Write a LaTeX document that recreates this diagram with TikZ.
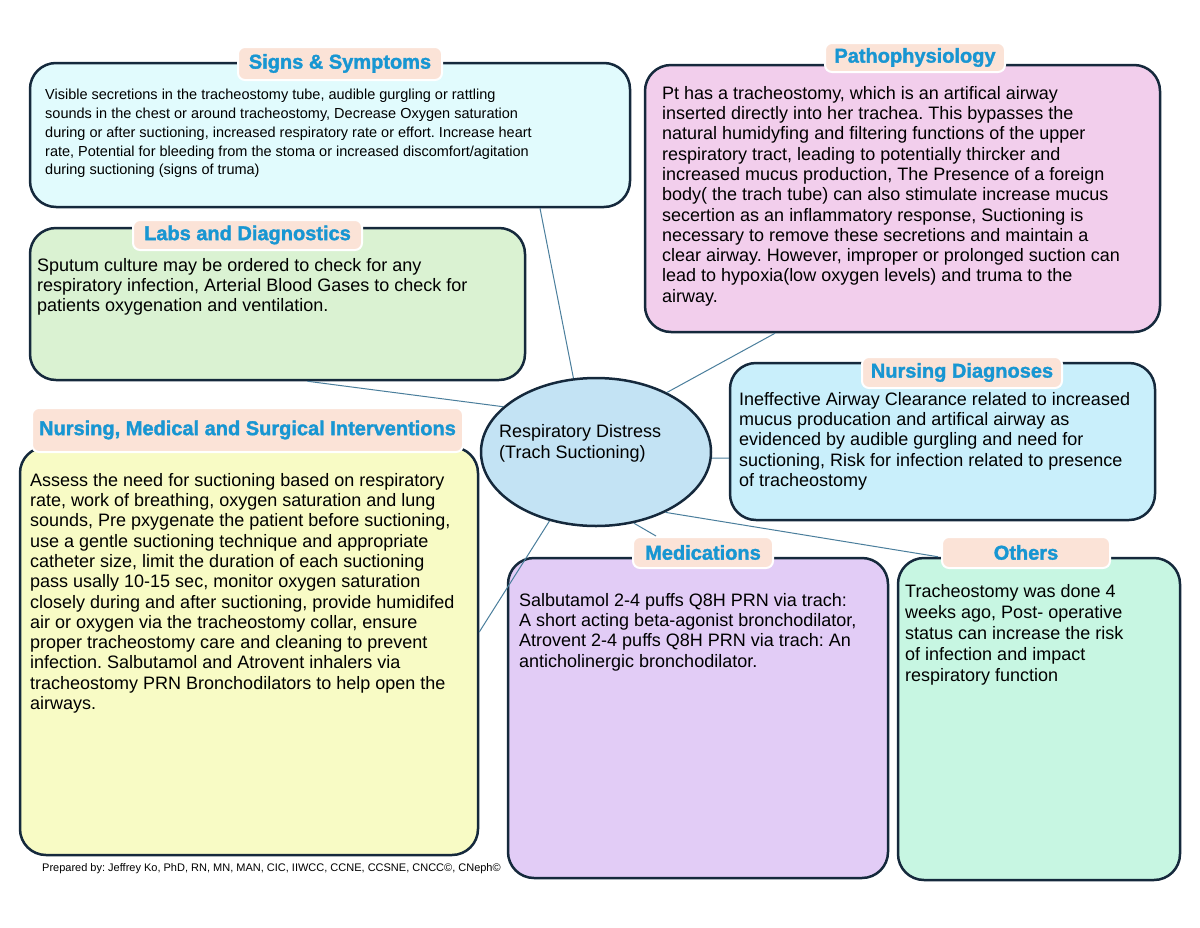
\documentclass[tikz,border=0pt]{standalone}
\usepackage{fontspec}
\setmainfont{Liberation Sans}
\usetikzlibrary{positioning,shapes.geometric}

\definecolor{signsbg}{HTML}{E1FBFD}
\definecolor{pathobg}{HTML}{F2CEEC}
\definecolor{labsbg}{HTML}{DAF2D2}
\definecolor{diagbg}{HTML}{C9EFFB}
\definecolor{intervbg}{HTML}{F8FBC5}
\definecolor{medsbg}{HTML}{E2CCF6}
\definecolor{othersbg}{HTML}{C7F6E2}
\definecolor{titlebg}{HTML}{FBE3D7}
\definecolor{titleblue}{HTML}{1896D2}
\definecolor{boxline}{HTML}{15293C}
\definecolor{linkblue}{HTML}{4A7E9C}
\definecolor{hubbg}{HTML}{C3E3F4}

\frenchspacing

\begin{document}
\begin{tikzpicture}[
	x = 1pt, y = -1pt,
	box/.style = {draw=boxline, line width=2.5pt, rounded corners=26pt, inner sep=0pt},
	titlebox/.style = {draw=white, line width=2pt, fill=titlebg, rounded corners=7pt,
		inner sep=0pt, text=titleblue,
		font=\fontsize{20}{22}\selectfont\bfseries\addfontfeatures{FakeBold=1.6}},
	bodytext/.style = {anchor=north west, inner sep=0pt, align=left,
		font=\fontsize{18}{20.3}\selectfont},
	link/.style = {draw=linkblue, line width=1pt}
	]
	\useasboundingbox[fill=white] (0,0) rectangle (1200,927);

	% boxes
	\node[box, fill=signsbg,  minimum width=600pt, minimum height=144pt] (signs)  at (330,135) {};
	\node[box, fill=pathobg,  minimum width=515pt, minimum height=267pt] (patho)  at (902.5,198.5) {};
	\node[box, fill=labsbg,   minimum width=495pt, minimum height=152pt] (labs)   at (277.5,304) {};
	\node[box, fill=diagbg,   minimum width=425pt, minimum height=157pt] (diag)   at (942.5,441.5) {};
	\node[box, fill=intervbg, minimum width=458pt, minimum height=408pt] (interv) at (249,651) {};
	\node[box, fill=medsbg,   minimum width=380pt, minimum height=320pt] (meds)   at (698,718) {};
	\node[box, fill=othersbg, minimum width=282pt, minimum height=322pt] (others) at (1039,719) {};

	% centre
	\node[ellipse, draw=boxline, line width=2.5pt, fill=hubbg,
		minimum width=230pt, minimum height=148pt] (hub) at (596,452) {};
	\node[bodytext, anchor=west, font=\fontsize{18}{21}\selectfont] (hubtext) at (499,443.5)
		{Respiratory Distress\\(Trach Suctioning)};

	% titles
	\node[titlebox, minimum width=204pt, minimum height=33pt] (signstitle)  at (340,63.5) {Signs \& Symptoms};
	\node[titlebox, minimum width=180pt, minimum height=29pt] (pathotitle)  at (915,57.5) {Pathophysiology};
	\node[titlebox, minimum width=229pt, minimum height=30pt] (labstitle)   at (247.5,235) {Labs and Diagnostics};
	\node[titlebox, minimum width=200pt, minimum height=31pt] (diagtitle)   at (962,372.5) {Nursing Diagnoses};
	\node[titlebox, minimum width=431pt, minimum height=44pt] (intervtitle) at (247.5,430) {Nursing, Medical and Surgical Interventions};
	\node[titlebox, minimum width=140pt, minimum height=31pt] (medstitle)   at (703,552.5) {Medications};
	\node[titlebox, minimum width=168pt, minimum height=31pt] (otherstitle) at (1026,552.5) {Others};

	% texts
	\node[bodytext, font=\fontsize{14.5}{18.8}\selectfont] (signstext) at (45,89)
		{Visible secretions in the tracheostomy tube, audible gurgling or rattling\\
		sounds in the chest or around tracheostomy, Decrease Oxygen saturation\\
		during or after suctioning, increased respiratory rate or effort. Increase heart\\
		rate, Potential for bleeding from the stoma or increased discomfort/agitation\\
		during suctioning (signs of truma)};
	\node[bodytext] (pathotext) at (662,86)
		{Pt has a tracheostomy, which is an artifical airway\\
		inserted directly into her trachea. This bypasses the\\
		natural humidyfing and filtering functions of the upper\\
		respiratory tract, leading to potentially thircker and\\
		increased mucus production, The Presence of a foreign\\
		body( the trach tube) can also stimulate increase mucus\\
		secertion as an inflammatory response, Suctioning is\\
		necessary to remove these secretions and maintain a\\
		clear airway. However, improper or prolonged suction can\\
		lead to hypoxia(low oxygen levels) and truma to the\\
		airway.};
	\node[bodytext] (labstext) at (37,258)
		{Sputum culture may be ordered to check for any\\
		respiratory infection, Arterial Blood Gases to check for\\
		patients oxygenation and ventilation.};
	\node[bodytext] (diagtext) at (739,392)
		{Ineffective Airway Clearance related to increased\\
		mucus producation and artifical airway as\\
		evidenced by audible gurgling and need for\\
		suctioning, Risk for infection related to presence\\
		of tracheostomy};
	\node[bodytext] (intervtext) at (30,473)
		{Assess the need for suctioning based on respiratory\\
		rate, work of breathing, oxygen saturation and lung\\
		sounds, Pre pxygenate the patient before suctioning,\\
		use a gentle suctioning technique and appropriate\\
		catheter size, limit the duration of each suctioning\\
		pass usally 10-15 sec, monitor oxygen saturation\\
		closely during and after suctioning, provide humidifed\\
		air or oxygen via the tracheostomy collar, ensure\\
		proper tracheostomy care and cleaning to prevent\\
		infection. Salbutamol and Atrovent inhalers via\\
		tracheostomy PRN Bronchodilators to help open the\\
		airways.};
	\node[bodytext] (medstext) at (519,593)
		{Salbutamol 2-4 puffs Q8H PRN via trach:\\
		A short acting beta-agonist bronchodilator,\\
		Atrovent 2-4 puffs Q8H PRN via trach: An\\
		anticholinergic bronchodilator.};
	\node[bodytext, font=\fontsize{18}{21}\selectfont] (otherstext) at (905,584)
		{Tracheostomy was done 4\\
		weeks ago, Post- operative\\
		status can increase the risk\\
		of infection and impact\\
		respiratory function};
	\node[bodytext, anchor=west, font=\fontsize{11}{13}\selectfont] (footer) at (42,869)
		{Prepared by: Jeffrey Ko, PhD, RN, MN, MAN, CIC, IIWCC, CCNE, CCSNE, CNCC©, CNeph©};

	% links
	\path[link]
	(hub.107)  -- ([xshift=210pt]signs.south)
	(hub.40)   -- ([xshift=-127.5pt]patho.south)
	(hub.154)  -- ([xshift=30pt]labs.south)
	(hub.-3)   -- (hub.-3 -| diag.west)
	(hub.-124) -- ([yshift=19pt]interv.east)
	(hub.-62)  -- ([xshift=24pt]medstitle.north west)
	(hub.-41)  -- ([xshift=-101pt]others.north);
\end{tikzpicture}
\end{document}
